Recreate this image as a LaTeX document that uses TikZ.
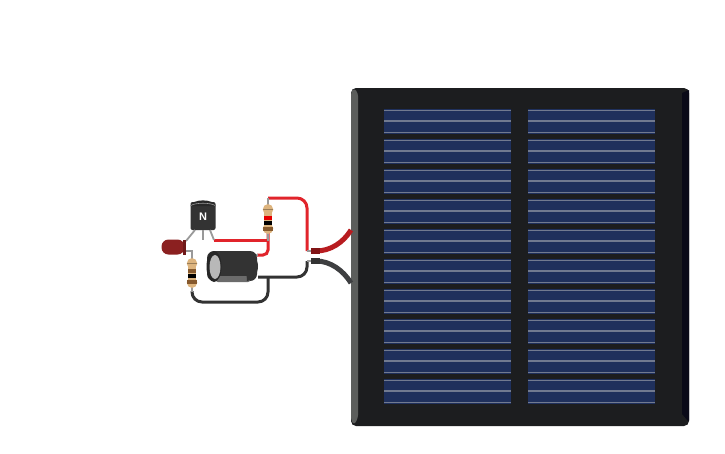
\documentclass[tikz,border=0pt]{standalone}
\usepackage{fontspec}
\setsansfont{Liberation Sans}
\usetikzlibrary{shapes.geometric}
\definecolor{panelblack}{HTML}{1C1D1F}
\definecolor{panelgrey}{HTML}{5C5E5C}
\definecolor{paneldark}{HTML}{0A0A18}
\definecolor{cellblue}{HTML}{1F305C}
\definecolor{cellline}{HTML}{717A90}
\definecolor{wirered}{HTML}{E1242B}
\definecolor{wireblack}{HTML}{333333}
\definecolor{leadgrey}{HTML}{999999}
\definecolor{restan}{HTML}{DDB47E}
\definecolor{ledred}{HTML}{8B2020}
\definecolor{clipred}{HTML}{B81C20}
\tikzset{
  wire/.style={line width=3pt,rounded corners=10pt},
  leadwire/.style={line width=1.8pt,leadgrey},
  clipwire/.style={line width=5pt},
  clipend/.style={line width=6.5pt},
  band/.style={inner sep=0pt,minimum width=7.8pt,minimum height=4pt},
  endband/.style={inner sep=0pt,minimum width=10.5pt,minimum height=4pt},
  resbody/.style={draw=none,fill=restan,rounded corners=3pt,minimum width=7.8pt,minimum height=29pt,inner sep=0pt},
  reshead/.style={fill=restan,circle,inner sep=0pt,minimum size=10.5pt},
}
\begin{document}
\begin{tikzpicture}[x=1pt,y=-1pt]
\useasboundingbox (0,0) rectangle (725,453);
% panel
\node at (520,257) (panel) [fill=panelblack,rounded corners=5pt,minimum width=338pt,minimum height=338pt,inner sep=0pt] {};
\fill[panelgrey,rounded corners=3pt] (351,100) -- (351,92) -- (354,88) -- (358,93) -- (358,418) -- (354,425) -- (351,420) -- cycle;
\fill[paneldark] (682,93) -- (689,90) -- (689,420) -- (688,421) -- (682,414) -- cycle;
\foreach \col in {384,528} {
  \foreach \row in {0,...,9} {
    \pgfmathsetmacro{\ytop}{108.5+30*\row}
    \fill[cellblue] (\col,\ytop) rectangle ++(127,25);
    \draw[cellline,line width=1.3pt] (\col,\ytop+2) -- ++(127,0);
    \draw[cellline,line width=1.3pt] (\col,\ytop+12.5) -- ++(127,0);
    \draw[cellline,line width=1.8pt] (\col,\ytop+24) -- ++(127,0);
  }
}
% coordinates
\coordinate (r1top) at (268,198);
\coordinate (r1bot) at (268,240);
\coordinate (redend) at (307,251);
\coordinate (blackend) at (307,261);
\coordinate (capright) at (257,255);
\coordinate (capbot) at (258,277);
\coordinate (junction) at (268,277);
\coordinate (r2bot) at (192,291);
\coordinate (collector) at (214,240);
% wires
\draw[wire,wirered] (r1top) -- (307,198) -- (redend);
\draw[wire,wirered,rounded corners=5pt] (268,230) -- (268,255) -- (capright);
\draw[wire,wirered,rounded corners=0pt] (collector) -- (r1bot);
\draw[wire,wireblack] (capbot) -- (307,277) -- (blackend);
\draw[wire,wireblack] (junction) -- (268,302) -- (192,302) -- (r2bot);
% clips
\draw[clipwire,clipred] (316,251) .. controls (330,251) and (343,243) .. (351,230);
\draw[clipend,color=clipred!70!black] (311,251) -- (320,251);
\draw[leadwire] (307,251) -- (311,251);
\draw[clipwire,panelblack!85!white] (316,261) .. controls (330,261) and (343,270) .. (351,283);
\draw[clipend,color=wireblack] (311,261) -- (320,261);
\draw[leadwire] (307,261) -- (311,261);
% transistor
\node at (203,216) (tbody) [fill=wireblack,rounded corners=2pt,minimum width=25pt,minimum height=28pt,inner sep=0pt] {};
\fill[wireblack!80!black] (190.5,206) .. controls (192,198.5) and (214,198.5) .. (215.5,206) -- cycle;
\draw[leadgrey,line width=0.6pt] (191,205.5) .. controls (195,202.5) and (211,202.5) .. (215,205.5);
\node at (203,217) (tlabel) [text=white,font=\sffamily\bfseries\fontsize{11}{11}\selectfont,inner sep=0pt] {N};
\draw[leadwire] (195,230) -- (186,241);
\draw[leadwire] (203,230) -- (203,240);
\draw[leadwire] (210,230) -- (214,240);
% led
\draw[leadwire] (184,251) -- (192,251) -- (192,259);
\node at (173,247) (led) [fill=ledred,rounded corners=7pt,minimum width=23pt,minimum height=15pt,inner sep=0pt] {};
\fill[ledred!80!black] (183,239.5) rectangle (185.5,254.5);
% capacitor
\draw[leadwire] (252,255) -- (258,255);
\node at (232,266) (capbody) [fill=wireblack,rounded corners=7pt,minimum width=50pt,minimum height=30pt,inner sep=0pt] {};
\fill[leadgrey!70!black,rounded corners=2pt] (216,276) rectangle (250,282);
\fill[wireblack] (245,253) .. controls (251,253) and (258,258) .. (258,266) .. controls (258,274) and (253,281) .. (247,281) -- cycle;
\node at (214,266.5) (capend) [ellipse,fill=black!85,minimum width=15pt,minimum height=31pt,inner sep=0pt] {};
\node at (215,267) (capface) [ellipse,fill=white!72!black,minimum width=11pt,minimum height=24pt,inner sep=0pt] {};
% resistor top
\draw[leadwire] (r1top) -- (268,205);
\draw[leadwire] (268,232) -- (268,241);
\node at (268,219) (resa) [resbody] {};
\node at (268,209.5) (resahead) [reshead] {};
\node at (268,228.5) (resatail) [reshead] {};
\node at (268,209) (resaa) [endband,fill=restan!70!black,minimum height=1pt] {};
\node at (268,217.5) (resab) [band,fill=red!90!black] {};
\node at (268,223) (resac) [band,fill=black] {};
\node at (268,228.5) (resad) [endband,fill=brown!70!black] {};
% resistor bottom
\draw[leadwire] (192,286) -- (192,292);
\node at (192,273) (resb) [resbody] {};
\node at (192,263.5) (resbhead) [reshead] {};
\node at (192,282.5) (resbtail) [reshead] {};
\node at (192,263) (resba) [endband,fill=restan!70!black,minimum height=1pt] {};
\node at (192,270.5) (resbb) [band,fill=brown!70!black] {};
\node at (192,276) (resbc) [band,fill=black] {};
\node at (192,282) (resbd) [endband,fill=brown!70!black] {};
\end{tikzpicture}
\end{document}
